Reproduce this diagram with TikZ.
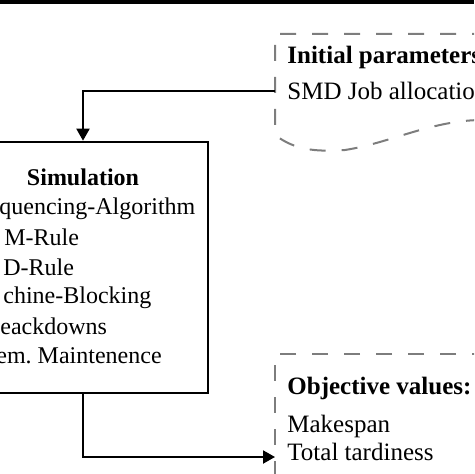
\documentclass[tikz,border=0pt]{standalone}
\usepackage{fontspec}
\setmainfont{Liberation Serif}
\usetikzlibrary{arrows.meta}
\definecolor{dashgray}{RGB}{125,125,125}
\tikzset{
 simbox/.style={draw, line width=1.3pt, inner sep=0pt},
 paperbox/.style={draw=dashgray, line width=1pt, dash pattern=on 8pt off 8pt},
 txt/.style={inner sep=0pt, anchor=base west, font=\fontsize{12.5}{15}\selectfont},
 head/.style={txt, font=\fontsize{12.5}{15}\selectfont\bfseries},
 simtxt/.style={txt, font=\fontsize{12}{15}\selectfont},
 link/.style={->, line width=1pt}
}
\begin{document}
\begin{tikzpicture}[x=0.5pt, y=-0.5pt, >={Triangle[length=6pt,width=6.5pt]}]
 \useasboundingbox (0,0) rectangle (474,474);
 \clip (0,0) rectangle (474,474);
 \fill (0,0) rectangle (474,4);
 % initial parameters
 \draw[paperbox] (520,34) -- (275,34) -- (275,135) .. controls (295,150) and (315,152) .. (345,150)
 .. controls (390,143) and (430,121) .. (480,120);
 \coordinate (initin) at (275,91.5);
 \node[head] (inithead) at (287,64) {Initial parameters};
 \node[txt] (initjob) at (287,100) {SMD Job allocation};
 % simulation
 \node[simbox, minimum width=125pt, minimum height=125.5pt] (sim) at (83,267.5) {};
 \node[simtxt, anchor=base, font=\fontsize{12}{15}\selectfont\bfseries] (simhead) at (83,186) {Simulation};
 \foreach \x/\y/\t [count=\i] in {-1/215/quencing-Algorithm, 4/246/M-Rule, 3/276/D-Rule,
 3/304/chine-Blocking, 0/334/eackdowns, -4/363/{em.\ Maintenence}}
 \node[simtxt] (sim\i) at (\x,\y) {\t};
 % objective values
 \draw[paperbox] (520,354) -- (275,354) -- (275,520);
 \coordinate (objin) at (275,457);
 \node[head] (objhead) at (287,394) {Objective values:};
 \node[txt] (objmake) at (287,432) {Makespan};
 \node[txt] (objtard) at (287,460) {Total tardiness};
 % connectors
 \draw[link] (initin) -| (sim.north);
 \draw[link] (sim.south) |- (objin);
\end{tikzpicture}
\end{document}
